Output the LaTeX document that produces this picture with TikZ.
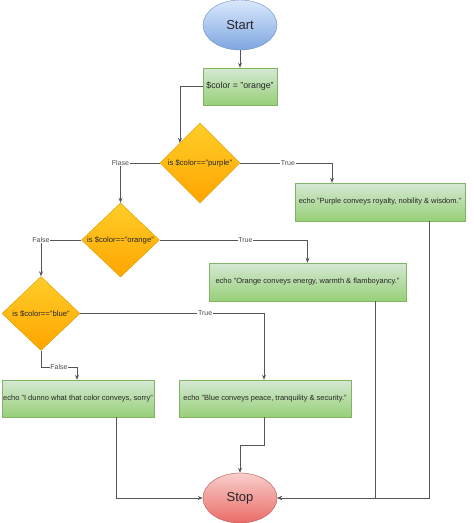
\documentclass[tikz,border=0pt]{standalone}
\usepackage{fontspec}
\setmainfont{Liberation Sans}
\usetikzlibrary{shapes.geometric,arrows.meta}
\definecolor{lineC}{HTML}{555555}
\begin{document}
\begin{tikzpicture}[x=1pt,y=-1pt,
  every node/.style={inner sep=0pt, font=\fontsize{7.5}{9}\selectfont, text=black!85},
  greenbox/.style={rectangle, draw={rgb,255:red,130;green,179;blue,102}, top color={rgb,255:red,213;green,232;blue,212}, bottom color={rgb,255:red,151;green,208;blue,119}, minimum height=37pt},
  decide/.style={diamond, draw={rgb,255:red,215;green,155;blue,0}, top color={rgb,255:red,255;green,205;blue,40}, bottom color={rgb,255:red,255;green,165;blue,0}, minimum width=78pt, minimum height=74pt, font=\fontsize{7.7}{9}\selectfont},
  conn/.style={draw=lineC, line width=0.8pt, -{Stealth[length=5pt,width=4pt]}},
  lbl/.style={fill=white, inner sep=0.8pt, font=\fontsize{7}{8}\selectfont, text=black!70}
]
\useasboundingbox (0,0) rectangle (474,523);

\node[ellipse, draw={rgb,255:red,108;green,142;blue,191}, top color={rgb,255:red,218;green,232;blue,252}, bottom color={rgb,255:red,126;green,166;blue,224}, minimum width=74pt, minimum height=50pt, font=\fontsize{13}{15}\selectfont] (start) at (240,25) {Start};
\node[greenbox, minimum width=74pt, font=\fontsize{8.8}{10}\selectfont] (init) at (240,86.5) {\$color = "orange"};
\node[decide, minimum width=80pt, minimum height=80pt] (d1) at (200,163) {is \$color=="purple"};
\node[greenbox, minimum width=170pt, minimum height=38pt] (purple) at (380,202) {echo "Purple conveys royalty, nobility \& wisdom."};
\node[decide] (d2) at (120.5,240) {is \$color=="orange"};
\node[greenbox, minimum width=197pt, minimum height=38pt] (orange) at (307.5,282) {echo "Orange conveys energy, warmth \& flamboyancy."};
\node[decide] (d3) at (41,313.5) {is \$color=="blue"};
\node[greenbox, minimum width=152pt] (dunno) at (78,398.5) {echo "I dunno what that color conveys, sorry"};
\node[greenbox, minimum width=172pt] (blue) at (265,398.5) {echo "Blue conveys peace, tranquility \& security."};
\node[ellipse, draw={rgb,255:red,184;green,84;blue,80}, top color={rgb,255:red,248;green,206;blue,204}, bottom color={rgb,255:red,234;green,107;blue,102}, minimum width=74pt, minimum height=50pt, font=\fontsize{13}{15}\selectfont] (stop) at (240,498) {Stop};

\coordinate (f3) at (41,367);
\coordinate (b1) at (264,445);

\draw[conn] (start.south) -- (init.north);
\draw[conn] (init.west) -| (d1.north west);
\draw[conn] (d1.west) -| node[lbl,pos=0.5]{Flase} (d2.north);
\draw[conn] (d1.east) -| node[lbl,pos=0.26]{True} ([xshift=-48pt]purple.north);
\draw[conn] (d2.west) -| node[lbl,pos=0.5]{False} (d3.north);
\draw[conn] (d2.east) -| node[lbl,pos=0.29]{True} (orange.north);
\draw[conn] (d3.east) -| node[lbl,pos=0.34]{True} ([xshift=-1pt]blue.north);
\draw[conn] (d3.south) -- (f3) -| node[lbl,pos=0.25]{False} ([xshift=-1pt]dunno.north);
\draw[conn] ([xshift=49pt]purple.south) |- (stop.east);
\draw[conn] ([xshift=68pt]orange.south) |- (stop.east);
\draw[conn] ([xshift=-1pt]blue.south) -- (b1) -| (stop.north);
\draw[conn] ([xshift=38pt]dunno.south) |- (stop.west);
\end{tikzpicture}
\end{document}
